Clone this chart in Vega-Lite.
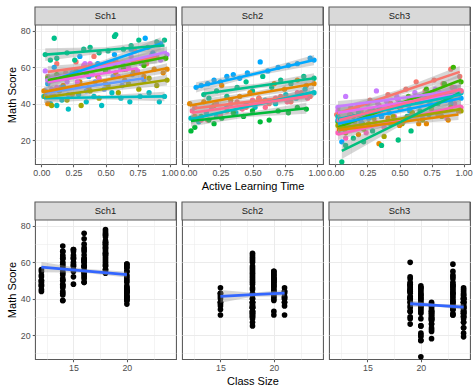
{
"$schema": "https://vega.github.io/schema/vega-lite/v6.json",
"padding": {"left": 5, "top": 5, "right": 4, "bottom": 4},
"columns": 3,
"bounds": "flush",
"spacing": {"row": 38, "column": 6},
"data": {"values": [
{"s":"Sch1","c":"A01","n":12,"t":0.03,"m":47},{"s":"Sch1","c":"A01","n":12,"t":0.08,"m":44},{"s":"Sch1","c":"A01","n":12,"t":0.15,"m":49},{"s":"Sch1","c":"A01","n":12,"t":0.21,"m":45},{"s":"Sch1","c":"A01","n":12,"t":0.28,"m":50},{"s":"Sch1","c":"A01","n":12,"t":0.35,"m":47},{"s":"Sch1","c":"A01","n":12,"t":0.42,"m":52},{"s":"Sch1","c":"A01","n":12,"t":0.49,"m":48},{"s":"Sch1","c":"A01","n":12,"t":0.56,"m":55},{"s":"Sch1","c":"A01","n":12,"t":0.63,"m":50},{"s":"Sch1","c":"A01","n":12,"t":0.71,"m":56},{"s":"Sch1","c":"A01","n":12,"t":0.8,"m":53},
{"s":"Sch1","c":"A02","n":20,"t":0.02,"m":44},{"s":"Sch1","c":"A02","n":20,"t":0.07,"m":40},{"s":"Sch1","c":"A02","n":20,"t":0.12,"m":39},{"s":"Sch1","c":"A02","n":20,"t":0.16,"m":42},{"s":"Sch1","c":"A02","n":20,"t":0.21,"m":37},{"s":"Sch1","c":"A02","n":20,"t":0.29,"m":45},{"s":"Sch1","c":"A02","n":20,"t":0.35,"m":41},{"s":"Sch1","c":"A02","n":20,"t":0.41,"m":44},{"s":"Sch1","c":"A02","n":20,"t":0.47,"m":39},{"s":"Sch1","c":"A02","n":20,"t":0.55,"m":46},{"s":"Sch1","c":"A02","n":20,"t":0.62,"m":43},{"s":"Sch1","c":"A02","n":20,"t":0.69,"m":41},{"s":"Sch1","c":"A02","n":20,"t":0.77,"m":44},{"s":"Sch1","c":"A02","n":20,"t":0.84,"m":46},{"s":"Sch1","c":"A02","n":20,"t":0.92,"m":41},{"s":"Sch1","c":"A02","n":20,"t":0.96,"m":44},
{"s":"Sch1","c":"A03","n":20,"t":0.02,"m":47},{"s":"Sch1","c":"A03","n":20,"t":0.05,"m":40},{"s":"Sch1","c":"A03","n":20,"t":0.1,"m":44},{"s":"Sch1","c":"A03","n":20,"t":0.17,"m":50},{"s":"Sch1","c":"A03","n":20,"t":0.24,"m":45},{"s":"Sch1","c":"A03","n":20,"t":0.3,"m":52},{"s":"Sch1","c":"A03","n":20,"t":0.37,"m":49},{"s":"Sch1","c":"A03","n":20,"t":0.44,"m":55},{"s":"Sch1","c":"A03","n":20,"t":0.5,"m":51},{"s":"Sch1","c":"A03","n":20,"t":0.58,"m":57},{"s":"Sch1","c":"A03","n":20,"t":0.65,"m":53},{"s":"Sch1","c":"A03","n":20,"t":0.72,"m":58},{"s":"Sch1","c":"A03","n":20,"t":0.8,"m":55},{"s":"Sch1","c":"A03","n":20,"t":0.88,"m":59},{"s":"Sch1","c":"A03","n":20,"t":0.95,"m":57},{"s":"Sch1","c":"A03","n":20,"t":0.98,"m":59},
{"s":"Sch1","c":"A04","n":14,"t":0.03,"m":44},{"s":"Sch1","c":"A04","n":14,"t":0.08,"m":39},{"s":"Sch1","c":"A04","n":14,"t":0.14,"m":47},{"s":"Sch1","c":"A04","n":14,"t":0.2,"m":42},{"s":"Sch1","c":"A04","n":14,"t":0.31,"m":39},{"s":"Sch1","c":"A04","n":14,"t":0.38,"m":47},{"s":"Sch1","c":"A04","n":14,"t":0.45,"m":43},{"s":"Sch1","c":"A04","n":14,"t":0.52,"m":50},{"s":"Sch1","c":"A04","n":14,"t":0.6,"m":46},{"s":"Sch1","c":"A04","n":14,"t":0.68,"m":51},{"s":"Sch1","c":"A04","n":14,"t":0.76,"m":48},{"s":"Sch1","c":"A04","n":14,"t":0.84,"m":54},{"s":"Sch1","c":"A04","n":14,"t":0.9,"m":50},{"s":"Sch1","c":"A04","n":14,"t":0.98,"m":53},
{"s":"Sch1","c":"A05","n":14,"t":0.05,"m":55},{"s":"Sch1","c":"A05","n":14,"t":0.12,"m":62},{"s":"Sch1","c":"A05","n":14,"t":0.19,"m":57},{"s":"Sch1","c":"A05","n":14,"t":0.27,"m":63},{"s":"Sch1","c":"A05","n":14,"t":0.33,"m":58},{"s":"Sch1","c":"A05","n":14,"t":0.41,"m":66},{"s":"Sch1","c":"A05","n":14,"t":0.5,"m":60},{"s":"Sch1","c":"A05","n":14,"t":0.58,"m":64},{"s":"Sch1","c":"A05","n":14,"t":0.66,"m":59},{"s":"Sch1","c":"A05","n":14,"t":0.73,"m":69},{"s":"Sch1","c":"A05","n":14,"t":0.82,"m":62},{"s":"Sch1","c":"A05","n":14,"t":0.9,"m":66},
{"s":"Sch1","c":"A06","n":15,"t":0.03,"m":58},{"s":"Sch1","c":"A06","n":15,"t":0.08,"m":48},{"s":"Sch1","c":"A06","n":15,"t":0.14,"m":55},{"s":"Sch1","c":"A06","n":15,"t":0.2,"m":52},{"s":"Sch1","c":"A06","n":15,"t":0.28,"m":58},{"s":"Sch1","c":"A06","n":15,"t":0.34,"m":62},{"s":"Sch1","c":"A06","n":15,"t":0.4,"m":56},{"s":"Sch1","c":"A06","n":15,"t":0.47,"m":60},{"s":"Sch1","c":"A06","n":15,"t":0.55,"m":63},{"s":"Sch1","c":"A06","n":15,"t":0.62,"m":59},{"s":"Sch1","c":"A06","n":15,"t":0.7,"m":66},{"s":"Sch1","c":"A06","n":15,"t":0.78,"m":62},{"s":"Sch1","c":"A06","n":15,"t":0.86,"m":67},{"s":"Sch1","c":"A06","n":15,"t":0.93,"m":64},{"s":"Sch1","c":"A06","n":15,"t":0.98,"m":67},
{"s":"Sch1","c":"A07","n":16,"t":0.05,"m":51},{"s":"Sch1","c":"A07","n":16,"t":0.1,"m":60},{"s":"Sch1","c":"A07","n":16,"t":0.17,"m":49},{"s":"Sch1","c":"A07","n":16,"t":0.24,"m":57},{"s":"Sch1","c":"A07","n":16,"t":0.3,"m":66},{"s":"Sch1","c":"A07","n":16,"t":0.37,"m":55},{"s":"Sch1","c":"A07","n":16,"t":0.44,"m":62},{"s":"Sch1","c":"A07","n":16,"t":0.5,"m":58},{"s":"Sch1","c":"A07","n":16,"t":0.57,"m":67},{"s":"Sch1","c":"A07","n":16,"t":0.64,"m":61},{"s":"Sch1","c":"A07","n":16,"t":0.7,"m":70},{"s":"Sch1","c":"A07","n":16,"t":0.77,"m":64},{"s":"Sch1","c":"A07","n":16,"t":0.81,"m":76},{"s":"Sch1","c":"A07","n":16,"t":0.87,"m":68},{"s":"Sch1","c":"A07","n":16,"t":0.93,"m":73},
{"s":"Sch1","c":"A08","n":16,"t":0.05,"m":53},{"s":"Sch1","c":"A08","n":16,"t":0.12,"m":49},{"s":"Sch1","c":"A08","n":16,"t":0.2,"m":55},{"s":"Sch1","c":"A08","n":16,"t":0.28,"m":52},{"s":"Sch1","c":"A08","n":16,"t":0.33,"m":61},{"s":"Sch1","c":"A08","n":16,"t":0.38,"m":62},{"s":"Sch1","c":"A08","n":16,"t":0.45,"m":54},{"s":"Sch1","c":"A08","n":16,"t":0.52,"m":58},{"s":"Sch1","c":"A08","n":16,"t":0.6,"m":55},{"s":"Sch1","c":"A08","n":16,"t":0.68,"m":60},{"s":"Sch1","c":"A08","n":16,"t":0.75,"m":58},
{"s":"Sch1","c":"A09","n":18,"t":0.03,"m":67},{"s":"Sch1","c":"A09","n":18,"t":0.07,"m":64},{"s":"Sch1","c":"A09","n":18,"t":0.1,"m":76},{"s":"Sch1","c":"A09","n":18,"t":0.12,"m":65},{"s":"Sch1","c":"A09","n":18,"t":0.2,"m":68},{"s":"Sch1","c":"A09","n":18,"t":0.26,"m":64},{"s":"Sch1","c":"A09","n":18,"t":0.33,"m":70},{"s":"Sch1","c":"A09","n":18,"t":0.38,"m":71},{"s":"Sch1","c":"A09","n":18,"t":0.45,"m":68},{"s":"Sch1","c":"A09","n":18,"t":0.52,"m":69},{"s":"Sch1","c":"A09","n":18,"t":0.57,"m":77},{"s":"Sch1","c":"A09","n":18,"t":0.58,"m":78},{"s":"Sch1","c":"A09","n":18,"t":0.64,"m":70},{"s":"Sch1","c":"A09","n":18,"t":0.7,"m":72},{"s":"Sch1","c":"A09","n":18,"t":0.76,"m":75},{"s":"Sch1","c":"A09","n":18,"t":0.83,"m":71},{"s":"Sch1","c":"A09","n":18,"t":0.9,"m":74},{"s":"Sch1","c":"A09","n":18,"t":0.96,"m":75},
{"s":"Sch1","c":"A10","n":18,"t":0.05,"m":54},{"s":"Sch1","c":"A10","n":18,"t":0.12,"m":56},{"s":"Sch1","c":"A10","n":18,"t":0.2,"m":55},{"s":"Sch1","c":"A10","n":18,"t":0.27,"m":58},{"s":"Sch1","c":"A10","n":18,"t":0.35,"m":56},{"s":"Sch1","c":"A10","n":18,"t":0.42,"m":60},{"s":"Sch1","c":"A10","n":18,"t":0.5,"m":58},{"s":"Sch1","c":"A10","n":18,"t":0.57,"m":62},{"s":"Sch1","c":"A10","n":18,"t":0.64,"m":59},{"s":"Sch1","c":"A10","n":18,"t":0.72,"m":63},{"s":"Sch1","c":"A10","n":18,"t":0.8,"m":61},{"s":"Sch1","c":"A10","n":18,"t":0.88,"m":66},{"s":"Sch1","c":"A10","n":18,"t":0.97,"m":65},
{"s":"Sch2","c":"B01","n":18,"t":0.06,"m":49},{"s":"Sch2","c":"B01","n":18,"t":0.1,"m":50},{"s":"Sch2","c":"B01","n":18,"t":0.15,"m":51},{"s":"Sch2","c":"B01","n":18,"t":0.2,"m":53},{"s":"Sch2","c":"B01","n":18,"t":0.25,"m":52},{"s":"Sch2","c":"B01","n":18,"t":0.3,"m":55},{"s":"Sch2","c":"B01","n":18,"t":0.35,"m":56},{"s":"Sch2","c":"B01","n":18,"t":0.4,"m":54},{"s":"Sch2","c":"B01","n":18,"t":0.46,"m":57},{"s":"Sch2","c":"B01","n":18,"t":0.56,"m":63},{"s":"Sch2","c":"B01","n":18,"t":0.62,"m":58},{"s":"Sch2","c":"B01","n":18,"t":0.7,"m":60},{"s":"Sch2","c":"B01","n":18,"t":0.78,"m":61},{"s":"Sch2","c":"B01","n":18,"t":0.85,"m":62},{"s":"Sch2","c":"B01","n":18,"t":0.95,"m":65},{"s":"Sch2","c":"B01","n":18,"t":0.98,"m":64},
{"s":"Sch2","c":"B02","n":20,"t":0.12,"m":45},{"s":"Sch2","c":"B02","n":20,"t":0.16,"m":43},{"s":"Sch2","c":"B02","n":20,"t":0.22,"m":47},{"s":"Sch2","c":"B02","n":20,"t":0.3,"m":44},{"s":"Sch2","c":"B02","n":20,"t":0.38,"m":49},{"s":"Sch2","c":"B02","n":20,"t":0.45,"m":52},{"s":"Sch2","c":"B02","n":20,"t":0.5,"m":47},{"s":"Sch2","c":"B02","n":20,"t":0.58,"m":55},{"s":"Sch2","c":"B02","n":20,"t":0.65,"m":49},{"s":"Sch2","c":"B02","n":20,"t":0.72,"m":53},{"s":"Sch2","c":"B02","n":20,"t":0.8,"m":51},{"s":"Sch2","c":"B02","n":20,"t":0.9,"m":55},{"s":"Sch2","c":"B02","n":20,"t":0.98,"m":54},
{"s":"Sch2","c":"B03","n":20,"t":0.01,"m":40},{"s":"Sch2","c":"B03","n":20,"t":0.05,"m":33},{"s":"Sch2","c":"B03","n":20,"t":0.09,"m":31},{"s":"Sch2","c":"B03","n":20,"t":0.12,"m":41},{"s":"Sch2","c":"B03","n":20,"t":0.2,"m":39},{"s":"Sch2","c":"B03","n":20,"t":0.26,"m":50},{"s":"Sch2","c":"B03","n":20,"t":0.33,"m":42},{"s":"Sch2","c":"B03","n":20,"t":0.4,"m":44},{"s":"Sch2","c":"B03","n":20,"t":0.48,"m":46},{"s":"Sch2","c":"B03","n":20,"t":0.55,"m":43},{"s":"Sch2","c":"B03","n":20,"t":0.67,"m":51},{"s":"Sch2","c":"B03","n":20,"t":0.75,"m":48},{"s":"Sch2","c":"B03","n":20,"t":0.85,"m":53},{"s":"Sch2","c":"B03","n":20,"t":0.92,"m":50},{"s":"Sch2","c":"B03","n":20,"t":0.98,"m":51},
{"s":"Sch2","c":"B04","n":21,"t":0.05,"m":38},{"s":"Sch2","c":"B04","n":21,"t":0.15,"m":31},{"s":"Sch2","c":"B04","n":21,"t":0.22,"m":40},{"s":"Sch2","c":"B04","n":21,"t":0.3,"m":36},{"s":"Sch2","c":"B04","n":21,"t":0.38,"m":41},{"s":"Sch2","c":"B04","n":21,"t":0.45,"m":38},{"s":"Sch2","c":"B04","n":21,"t":0.55,"m":43},{"s":"Sch2","c":"B04","n":21,"t":0.63,"m":40},{"s":"Sch2","c":"B04","n":21,"t":0.72,"m":44},{"s":"Sch2","c":"B04","n":21,"t":0.8,"m":41},{"s":"Sch2","c":"B04","n":21,"t":0.88,"m":46},{"s":"Sch2","c":"B04","n":21,"t":0.95,"m":44},
{"s":"Sch2","c":"B05","n":18,"t":0.02,"m":32},{"s":"Sch2","c":"B05","n":18,"t":0.08,"m":30},{"s":"Sch2","c":"B05","n":18,"t":0.14,"m":35},{"s":"Sch2","c":"B05","n":18,"t":0.22,"m":33},{"s":"Sch2","c":"B05","n":18,"t":0.3,"m":38},{"s":"Sch2","c":"B05","n":18,"t":0.37,"m":35},{"s":"Sch2","c":"B05","n":18,"t":0.45,"m":40},{"s":"Sch2","c":"B05","n":18,"t":0.52,"m":38},{"s":"Sch2","c":"B05","n":18,"t":0.6,"m":42},{"s":"Sch2","c":"B05","n":18,"t":0.68,"m":40},{"s":"Sch2","c":"B05","n":18,"t":0.76,"m":45},{"s":"Sch2","c":"B05","n":18,"t":0.84,"m":43},{"s":"Sch2","c":"B05","n":18,"t":0.91,"m":48},{"s":"Sch2","c":"B05","n":18,"t":0.98,"m":46},
{"s":"Sch2","c":"B06","n":18,"t":0.02,"m":25},{"s":"Sch2","c":"B06","n":18,"t":0.05,"m":27},{"s":"Sch2","c":"B06","n":18,"t":0.1,"m":33},{"s":"Sch2","c":"B06","n":18,"t":0.16,"m":31},{"s":"Sch2","c":"B06","n":18,"t":0.2,"m":29},{"s":"Sch2","c":"B06","n":18,"t":0.26,"m":32},{"s":"Sch2","c":"B06","n":18,"t":0.35,"m":35},{"s":"Sch2","c":"B06","n":18,"t":0.43,"m":33},{"s":"Sch2","c":"B06","n":18,"t":0.5,"m":36},{"s":"Sch2","c":"B06","n":18,"t":0.56,"m":30},{"s":"Sch2","c":"B06","n":18,"t":0.63,"m":31},{"s":"Sch2","c":"B06","n":18,"t":0.7,"m":36},{"s":"Sch2","c":"B06","n":18,"t":0.78,"m":35},{"s":"Sch2","c":"B06","n":18,"t":0.85,"m":38},{"s":"Sch2","c":"B06","n":18,"t":0.92,"m":37},
{"s":"Sch2","c":"B07","n":15,"t":0.03,"m":36},{"s":"Sch2","c":"B07","n":15,"t":0.1,"m":31},{"s":"Sch2","c":"B07","n":15,"t":0.18,"m":38},{"s":"Sch2","c":"B07","n":15,"t":0.25,"m":34},{"s":"Sch2","c":"B07","n":15,"t":0.33,"m":40},{"s":"Sch2","c":"B07","n":15,"t":0.42,"m":37},{"s":"Sch2","c":"B07","n":15,"t":0.5,"m":42},{"s":"Sch2","c":"B07","n":15,"t":0.6,"m":38},{"s":"Sch2","c":"B07","n":15,"t":0.68,"m":43},{"s":"Sch2","c":"B07","n":15,"t":0.77,"m":41},{"s":"Sch2","c":"B07","n":15,"t":0.85,"m":46},{"s":"Sch2","c":"B07","n":15,"t":0.93,"m":43},
{"s":"Sch3","c":"C01","n":23,"t":0.01,"m":34},{"s":"Sch3","c":"C01","n":23,"t":0.06,"m":31},{"s":"Sch3","c":"C01","n":23,"t":0.12,"m":38},{"s":"Sch3","c":"C01","n":23,"t":0.2,"m":36},{"s":"Sch3","c":"C01","n":23,"t":0.27,"m":42},{"s":"Sch3","c":"C01","n":23,"t":0.34,"m":39},{"s":"Sch3","c":"C01","n":23,"t":0.41,"m":45},{"s":"Sch3","c":"C01","n":23,"t":0.48,"m":43},{"s":"Sch3","c":"C01","n":23,"t":0.55,"m":48},{"s":"Sch3","c":"C01","n":23,"t":0.63,"m":52},{"s":"Sch3","c":"C01","n":23,"t":0.7,"m":47},{"s":"Sch3","c":"C01","n":23,"t":0.77,"m":53},{"s":"Sch3","c":"C01","n":23,"t":0.84,"m":51},{"s":"Sch3","c":"C01","n":23,"t":0.9,"m":59},{"s":"Sch3","c":"C01","n":23,"t":0.97,"m":55},
{"s":"Sch3","c":"C02","n":19,"t":0.02,"m":30},{"s":"Sch3","c":"C02","n":19,"t":0.07,"m":26},{"s":"Sch3","c":"C02","n":19,"t":0.14,"m":33},{"s":"Sch3","c":"C02","n":19,"t":0.21,"m":29},{"s":"Sch3","c":"C02","n":19,"t":0.3,"m":36},{"s":"Sch3","c":"C02","n":19,"t":0.36,"m":33},{"s":"Sch3","c":"C02","n":19,"t":0.43,"m":40},{"s":"Sch3","c":"C02","n":19,"t":0.5,"m":38},{"s":"Sch3","c":"C02","n":19,"t":0.57,"m":44},{"s":"Sch3","c":"C02","n":19,"t":0.64,"m":41},{"s":"Sch3","c":"C02","n":19,"t":0.71,"m":48},{"s":"Sch3","c":"C02","n":19,"t":0.78,"m":45},{"s":"Sch3","c":"C02","n":19,"t":0.85,"m":51},{"s":"Sch3","c":"C02","n":19,"t":0.92,"m":60},{"s":"Sch3","c":"C02","n":19,"t":0.98,"m":52},
{"s":"Sch3","c":"C03","n":19,"t":0.02,"m":38},{"s":"Sch3","c":"C03","n":19,"t":0.08,"m":44},{"s":"Sch3","c":"C03","n":19,"t":0.18,"m":35},{"s":"Sch3","c":"C03","n":19,"t":0.25,"m":40},{"s":"Sch3","c":"C03","n":19,"t":0.32,"m":47},{"s":"Sch3","c":"C03","n":19,"t":0.4,"m":41},{"s":"Sch3","c":"C03","n":19,"t":0.48,"m":44},{"s":"Sch3","c":"C03","n":19,"t":0.55,"m":40},{"s":"Sch3","c":"C03","n":19,"t":0.62,"m":46},{"s":"Sch3","c":"C03","n":19,"t":0.7,"m":43},{"s":"Sch3","c":"C03","n":19,"t":0.78,"m":48},{"s":"Sch3","c":"C03","n":19,"t":0.86,"m":45},{"s":"Sch3","c":"C03","n":19,"t":0.93,"m":49},{"s":"Sch3","c":"C03","n":19,"t":0.98,"m":47},
{"s":"Sch3","c":"C04","n":24,"t":0.02,"m":24},{"s":"Sch3","c":"C04","n":24,"t":0.08,"m":21},{"s":"Sch3","c":"C04","n":24,"t":0.16,"m":27},{"s":"Sch3","c":"C04","n":24,"t":0.24,"m":24},{"s":"Sch3","c":"C04","n":24,"t":0.31,"m":30},{"s":"Sch3","c":"C04","n":24,"t":0.38,"m":27},{"s":"Sch3","c":"C04","n":24,"t":0.46,"m":33},{"s":"Sch3","c":"C04","n":24,"t":0.53,"m":30},{"s":"Sch3","c":"C04","n":24,"t":0.6,"m":35},{"s":"Sch3","c":"C04","n":24,"t":0.68,"m":32},{"s":"Sch3","c":"C04","n":24,"t":0.75,"m":38},{"s":"Sch3","c":"C04","n":24,"t":0.82,"m":35},{"s":"Sch3","c":"C04","n":24,"t":0.87,"m":32},{"s":"Sch3","c":"C04","n":24,"t":0.93,"m":40},{"s":"Sch3","c":"C04","n":24,"t":0.98,"m":38},
{"s":"Sch3","c":"C05","n":24,"t":0.02,"m":31},{"s":"Sch3","c":"C05","n":24,"t":0.05,"m":19},{"s":"Sch3","c":"C05","n":24,"t":0.12,"m":34},{"s":"Sch3","c":"C05","n":24,"t":0.2,"m":30},{"s":"Sch3","c":"C05","n":24,"t":0.28,"m":36},{"s":"Sch3","c":"C05","n":24,"t":0.36,"m":33},{"s":"Sch3","c":"C05","n":24,"t":0.44,"m":38},{"s":"Sch3","c":"C05","n":24,"t":0.52,"m":40},{"s":"Sch3","c":"C05","n":24,"t":0.58,"m":36},{"s":"Sch3","c":"C05","n":24,"t":0.66,"m":41},{"s":"Sch3","c":"C05","n":24,"t":0.74,"m":39},{"s":"Sch3","c":"C05","n":24,"t":0.82,"m":44},{"s":"Sch3","c":"C05","n":24,"t":0.9,"m":40},{"s":"Sch3","c":"C05","n":24,"t":0.98,"m":43},
{"s":"Sch3","c":"C06","n":21,"t":0.02,"m":28},{"s":"Sch3","c":"C06","n":21,"t":0.08,"m":24},{"s":"Sch3","c":"C06","n":21,"t":0.15,"m":30},{"s":"Sch3","c":"C06","n":21,"t":0.22,"m":26},{"s":"Sch3","c":"C06","n":21,"t":0.3,"m":32},{"s":"Sch3","c":"C06","n":21,"t":0.38,"m":22},{"s":"Sch3","c":"C06","n":21,"t":0.45,"m":33},{"s":"Sch3","c":"C06","n":21,"t":0.52,"m":29},{"s":"Sch3","c":"C06","n":21,"t":0.6,"m":35},{"s":"Sch3","c":"C06","n":21,"t":0.68,"m":31},{"s":"Sch3","c":"C06","n":21,"t":0.75,"m":37},{"s":"Sch3","c":"C06","n":21,"t":0.83,"m":33},{"s":"Sch3","c":"C06","n":21,"t":0.9,"m":38},{"s":"Sch3","c":"C06","n":21,"t":0.98,"m":36},
{"s":"Sch3","c":"C07","n":21,"t":0.03,"m":26},{"s":"Sch3","c":"C07","n":21,"t":0.1,"m":30},{"s":"Sch3","c":"C07","n":21,"t":0.18,"m":23},{"s":"Sch3","c":"C07","n":21,"t":0.26,"m":29},{"s":"Sch3","c":"C07","n":21,"t":0.34,"m":18},{"s":"Sch3","c":"C07","n":21,"t":0.41,"m":32},{"s":"Sch3","c":"C07","n":21,"t":0.5,"m":28},{"s":"Sch3","c":"C07","n":21,"t":0.58,"m":33},{"s":"Sch3","c":"C07","n":21,"t":0.65,"m":29},{"s":"Sch3","c":"C07","n":21,"t":0.71,"m":29},{"s":"Sch3","c":"C07","n":21,"t":0.8,"m":34},{"s":"Sch3","c":"C07","n":21,"t":0.88,"m":31},{"s":"Sch3","c":"C07","n":21,"t":0.96,"m":36},
{"s":"Sch3","c":"C08","n":20,"t":0.02,"m":36},{"s":"Sch3","c":"C08","n":20,"t":0.09,"m":32},{"s":"Sch3","c":"C08","n":20,"t":0.17,"m":38},{"s":"Sch3","c":"C08","n":20,"t":0.25,"m":35},{"s":"Sch3","c":"C08","n":20,"t":0.33,"m":40},{"s":"Sch3","c":"C08","n":20,"t":0.41,"m":37},{"s":"Sch3","c":"C08","n":20,"t":0.49,"m":42},{"s":"Sch3","c":"C08","n":20,"t":0.57,"m":39},{"s":"Sch3","c":"C08","n":20,"t":0.65,"m":44},{"s":"Sch3","c":"C08","n":20,"t":0.73,"m":41},{"s":"Sch3","c":"C08","n":20,"t":0.81,"m":46},{"s":"Sch3","c":"C08","n":20,"t":0.89,"m":43},{"s":"Sch3","c":"C08","n":20,"t":0.97,"m":46},
{"s":"Sch3","c":"C09","n":20,"t":0.05,"m":8},{"s":"Sch3","c":"C09","n":20,"t":0.08,"m":17},{"s":"Sch3","c":"C09","n":20,"t":0.14,"m":21},{"s":"Sch3","c":"C09","n":20,"t":0.22,"m":19},{"s":"Sch3","c":"C09","n":20,"t":0.29,"m":25},{"s":"Sch3","c":"C09","n":20,"t":0.36,"m":17},{"s":"Sch3","c":"C09","n":20,"t":0.43,"m":29},{"s":"Sch3","c":"C09","n":20,"t":0.49,"m":20},{"s":"Sch3","c":"C09","n":20,"t":0.56,"m":33},{"s":"Sch3","c":"C09","n":20,"t":0.59,"m":25},{"s":"Sch3","c":"C09","n":20,"t":0.66,"m":36},{"s":"Sch3","c":"C09","n":20,"t":0.73,"m":34},{"s":"Sch3","c":"C09","n":20,"t":0.8,"m":40},{"s":"Sch3","c":"C09","n":20,"t":0.86,"m":42},{"s":"Sch3","c":"C09","n":20,"t":0.91,"m":45},{"s":"Sch3","c":"C09","n":20,"t":0.97,"m":47},
{"s":"Sch3","c":"C10","n":24,"t":0.02,"m":33},{"s":"Sch3","c":"C10","n":24,"t":0.1,"m":29},{"s":"Sch3","c":"C10","n":24,"t":0.18,"m":35},{"s":"Sch3","c":"C10","n":24,"t":0.26,"m":32},{"s":"Sch3","c":"C10","n":24,"t":0.34,"m":38},{"s":"Sch3","c":"C10","n":24,"t":0.42,"m":35},{"s":"Sch3","c":"C10","n":24,"t":0.5,"m":40},{"s":"Sch3","c":"C10","n":24,"t":0.58,"m":37},{"s":"Sch3","c":"C10","n":24,"t":0.66,"m":42},{"s":"Sch3","c":"C10","n":24,"t":0.74,"m":40},{"s":"Sch3","c":"C10","n":24,"t":0.82,"m":45},{"s":"Sch3","c":"C10","n":24,"t":0.9,"m":42},{"s":"Sch3","c":"C10","n":24,"t":0.98,"m":46},
{"s":"Sch3","c":"C11","n":23,"t":0.03,"m":31},{"s":"Sch3","c":"C11","n":23,"t":0.11,"m":34},{"s":"Sch3","c":"C11","n":23,"t":0.19,"m":32},{"s":"Sch3","c":"C11","n":23,"t":0.27,"m":37},{"s":"Sch3","c":"C11","n":23,"t":0.35,"m":35},{"s":"Sch3","c":"C11","n":23,"t":0.43,"m":40},{"s":"Sch3","c":"C11","n":23,"t":0.51,"m":38},{"s":"Sch3","c":"C11","n":23,"t":0.59,"m":43},{"s":"Sch3","c":"C11","n":23,"t":0.67,"m":41},{"s":"Sch3","c":"C11","n":23,"t":0.75,"m":46},{"s":"Sch3","c":"C11","n":23,"t":0.83,"m":44},{"s":"Sch3","c":"C11","n":23,"t":0.91,"m":49},{"s":"Sch3","c":"C11","n":23,"t":0.98,"m":47},
{"s":"Sch1","c":"A01","k":"T","t":0.03,"m":46,"lo":42.8,"hi":49.2},{"s":"Sch1","c":"A01","k":"T","t":0.415,"m":50,"lo":48.5,"hi":51.5},{"s":"Sch1","c":"A01","k":"T","t":0.8,"m":54,"lo":50.8,"hi":57.2},
{"s":"Sch1","c":"A02","k":"T","t":0.02,"m":43,"lo":40.4,"hi":45.6},{"s":"Sch1","c":"A02","k":"T","t":0.49,"m":43.5,"lo":42.3,"hi":44.7},{"s":"Sch1","c":"A02","k":"T","t":0.96,"m":44,"lo":41.4,"hi":46.6},
{"s":"Sch1","c":"A03","k":"T","t":0.02,"m":46.5,"lo":43.7,"hi":49.3},{"s":"Sch1","c":"A03","k":"T","t":0.5,"m":53,"lo":51.7,"hi":54.3},{"s":"Sch1","c":"A03","k":"T","t":0.98,"m":59.5,"lo":56.7,"hi":62.3},
{"s":"Sch1","c":"A04","k":"T","t":0.03,"m":43.5,"lo":40.5,"hi":46.5},{"s":"Sch1","c":"A04","k":"T","t":0.505,"m":48.25,"lo":46.85,"hi":49.65},{"s":"Sch1","c":"A04","k":"T","t":0.98,"m":53,"lo":50,"hi":56},
{"s":"Sch1","c":"A05","k":"T","t":0.05,"m":57.5,"lo":54.3,"hi":60.7},{"s":"Sch1","c":"A05","k":"T","t":0.475,"m":61.5,"lo":60,"hi":63},{"s":"Sch1","c":"A05","k":"T","t":0.9,"m":65.5,"lo":62.3,"hi":68.7},
{"s":"Sch1","c":"A06","k":"T","t":0.03,"m":53,"lo":50,"hi":56},{"s":"Sch1","c":"A06","k":"T","t":0.505,"m":60.75,"lo":59.35,"hi":62.15},{"s":"Sch1","c":"A06","k":"T","t":0.98,"m":68.5,"lo":65.5,"hi":71.5},
{"s":"Sch1","c":"A07","k":"T","t":0.05,"m":52,"lo":48.5,"hi":55.5},{"s":"Sch1","c":"A07","k":"T","t":0.49,"m":62.5,"lo":60.9,"hi":64.1},{"s":"Sch1","c":"A07","k":"T","t":0.93,"m":73,"lo":69.5,"hi":76.5},
{"s":"Sch1","c":"A08","k":"T","t":0.05,"m":52,"lo":49,"hi":55},{"s":"Sch1","c":"A08","k":"T","t":0.4,"m":55.75,"lo":54.35,"hi":57.15},{"s":"Sch1","c":"A08","k":"T","t":0.75,"m":59.5,"lo":56.5,"hi":62.5},
{"s":"Sch1","c":"A09","k":"T","t":0.03,"m":67,"lo":63.5,"hi":70.5},{"s":"Sch1","c":"A09","k":"T","t":0.495,"m":69.5,"lo":67.9,"hi":71.1},{"s":"Sch1","c":"A09","k":"T","t":0.96,"m":72,"lo":68.5,"hi":75.5},
{"s":"Sch1","c":"A10","k":"T","t":0.05,"m":53,"lo":50.5,"hi":55.5},{"s":"Sch1","c":"A10","k":"T","t":0.51,"m":59.25,"lo":58.05,"hi":60.45},{"s":"Sch1","c":"A10","k":"T","t":0.97,"m":65.5,"lo":63,"hi":68},
{"s":"Sch2","c":"B01","k":"T","t":0.06,"m":49,"lo":46.2,"hi":51.8},{"s":"Sch2","c":"B01","k":"T","t":0.52,"m":56.5,"lo":55.2,"hi":57.8},{"s":"Sch2","c":"B01","k":"T","t":0.98,"m":64,"lo":61.2,"hi":66.8},
{"s":"Sch2","c":"B02","k":"T","t":0.12,"m":45.5,"lo":42.7,"hi":48.3},{"s":"Sch2","c":"B02","k":"T","t":0.55,"m":49.75,"lo":48.45,"hi":51.05},{"s":"Sch2","c":"B02","k":"T","t":0.98,"m":54,"lo":51.2,"hi":56.8},
{"s":"Sch2","c":"B03","k":"T","t":0.01,"m":39,"lo":36.2,"hi":41.8},{"s":"Sch2","c":"B03","k":"T","t":0.495,"m":45,"lo":43.7,"hi":46.3},{"s":"Sch2","c":"B03","k":"T","t":0.98,"m":51,"lo":48.2,"hi":53.8},
{"s":"Sch2","c":"B04","k":"T","t":0.05,"m":37.5,"lo":34.7,"hi":40.3},{"s":"Sch2","c":"B04","k":"T","t":0.5,"m":41.25,"lo":39.95,"hi":42.55},{"s":"Sch2","c":"B04","k":"T","t":0.95,"m":45,"lo":42.2,"hi":47.8},
{"s":"Sch2","c":"B05","k":"T","t":0.02,"m":31.5,"lo":28.7,"hi":34.3},{"s":"Sch2","c":"B05","k":"T","t":0.5,"m":39,"lo":37.7,"hi":40.3},{"s":"Sch2","c":"B05","k":"T","t":0.98,"m":46.5,"lo":43.7,"hi":49.3},
{"s":"Sch2","c":"B06","k":"T","t":0.02,"m":30.5,"lo":27.5,"hi":33.5},{"s":"Sch2","c":"B06","k":"T","t":0.47,"m":34,"lo":32.6,"hi":35.4},{"s":"Sch2","c":"B06","k":"T","t":0.92,"m":37.5,"lo":34.5,"hi":40.5},
{"s":"Sch2","c":"B07","k":"T","t":0.03,"m":35,"lo":32.2,"hi":37.8},{"s":"Sch2","c":"B07","k":"T","t":0.48,"m":39.5,"lo":38.2,"hi":40.8},{"s":"Sch2","c":"B07","k":"T","t":0.93,"m":44,"lo":41.2,"hi":46.8},
{"s":"Sch3","c":"C01","k":"T","t":0.01,"m":34.5,"lo":31.3,"hi":37.7},{"s":"Sch3","c":"C01","k":"T","t":0.49,"m":46,"lo":44.5,"hi":47.5},{"s":"Sch3","c":"C01","k":"T","t":0.97,"m":57.5,"lo":54.3,"hi":60.7},
{"s":"Sch3","c":"C02","k":"T","t":0.02,"m":27,"lo":23.5,"hi":30.5},{"s":"Sch3","c":"C02","k":"T","t":0.5,"m":40,"lo":38.4,"hi":41.6},{"s":"Sch3","c":"C02","k":"T","t":0.98,"m":53,"lo":49.5,"hi":56.5},
{"s":"Sch3","c":"C03","k":"T","t":0.02,"m":38.5,"lo":35.5,"hi":41.5},{"s":"Sch3","c":"C03","k":"T","t":0.5,"m":43,"lo":41.6,"hi":44.4},{"s":"Sch3","c":"C03","k":"T","t":0.98,"m":47.5,"lo":44.5,"hi":50.5},
{"s":"Sch3","c":"C04","k":"T","t":0.02,"m":23,"lo":20,"hi":26},{"s":"Sch3","c":"C04","k":"T","t":0.5,"m":31,"lo":29.6,"hi":32.4},{"s":"Sch3","c":"C04","k":"T","t":0.98,"m":39,"lo":36,"hi":42},
{"s":"Sch3","c":"C05","k":"T","t":0.02,"m":29,"lo":26,"hi":32},{"s":"Sch3","c":"C05","k":"T","t":0.5,"m":36,"lo":34.6,"hi":37.4},{"s":"Sch3","c":"C05","k":"T","t":0.98,"m":43,"lo":40,"hi":46},
{"s":"Sch3","c":"C06","k":"T","t":0.02,"m":26.5,"lo":23.5,"hi":29.5},{"s":"Sch3","c":"C06","k":"T","t":0.5,"m":31.75,"lo":30.35,"hi":33.15},{"s":"Sch3","c":"C06","k":"T","t":0.98,"m":37,"lo":34,"hi":40},
{"s":"Sch3","c":"C07","k":"T","t":0.03,"m":25.5,"lo":22.5,"hi":28.5},{"s":"Sch3","c":"C07","k":"T","t":0.495,"m":29.75,"lo":28.35,"hi":31.15},{"s":"Sch3","c":"C07","k":"T","t":0.96,"m":34,"lo":31,"hi":37},
{"s":"Sch3","c":"C08","k":"T","t":0.02,"m":35,"lo":32.2,"hi":37.8},{"s":"Sch3","c":"C08","k":"T","t":0.495,"m":40.25,"lo":38.95,"hi":41.55},{"s":"Sch3","c":"C08","k":"T","t":0.97,"m":45.5,"lo":42.7,"hi":48.3},
{"s":"Sch3","c":"C09","k":"T","t":0.05,"m":14,"lo":9.5,"hi":18.5},{"s":"Sch3","c":"C09","k":"T","t":0.51,"m":30,"lo":28,"hi":32},{"s":"Sch3","c":"C09","k":"T","t":0.97,"m":46,"lo":41.5,"hi":50.5},
{"s":"Sch3","c":"C10","k":"T","t":0.02,"m":31.5,"lo":28.7,"hi":34.3},{"s":"Sch3","c":"C10","k":"T","t":0.5,"m":38.25,"lo":36.95,"hi":39.55},{"s":"Sch3","c":"C10","k":"T","t":0.98,"m":45,"lo":42.2,"hi":47.8},
{"s":"Sch3","c":"C11","k":"T","t":0.03,"m":31,"lo":28,"hi":34},{"s":"Sch3","c":"C11","k":"T","t":0.505,"m":39.5,"lo":38.1,"hi":40.9},{"s":"Sch3","c":"C11","k":"T","t":0.98,"m":48,"lo":45,"hi":51},
{"s":"Sch1","k":"B","n":12,"m":57.4,"lo":54.6,"hi":60.2},{"s":"Sch1","k":"B","n":16,"m":55.3,"lo":54.2,"hi":56.4},{"s":"Sch1","k":"B","n":20,"m":53.2,"lo":51.6,"hi":54.8},
{"s":"Sch2","k":"B","n":15,"m":41.3,"lo":37.8,"hi":44.8},{"s":"Sch2","k":"B","n":18,"m":42.2,"lo":41.1,"hi":43.3},{"s":"Sch2","k":"B","n":21,"m":43.1,"lo":41.4,"hi":44.8},
{"s":"Sch3","k":"B","n":19,"m":37.2,"lo":35.4,"hi":39},{"s":"Sch3","k":"B","n":21.5,"m":36.3,"lo":35.5,"hi":37.1},{"s":"Sch3","k":"B","n":24,"m":35.4,"lo":33.9,"hi":36.9}
]},
"concat": [
{"width":141,"height":157,"transform":[{"filter":"datum.s=='Sch1'"}],
 "encoding":{
  "x":{"field":"t","type":"quantitative","scale":{"domain":[-0.05,1.05],"nice":false,"zero":false},"axis":{"values":[0,0.125,0.25,0.375,0.5,0.625,0.75,0.875,1],"labelExpr":"datum.value % 0.25 == 0 ? format(datum.value, '.2f') : ''","tickOpacity":{"condition":{"test":"datum.value % 0.25 == 0","value":1},"value":0},"gridWidth":{"condition":{"test":"datum.value % 0.25 == 0","value":1.07},"value":0.53},"title":null}},
  "y":{"field":"m","type":"quantitative","scale":{"domain":[6.8,93.2],"nice":false,"zero":false},"axis":{"values":[10,20,30,40,50,60,70,80],"labelExpr":"datum.value % 20 == 0 ? datum.label : ''","tickOpacity":{"condition":{"test":"datum.value % 20 == 0","value":1},"value":0},"gridWidth":{"condition":{"test":"datum.value % 20 == 0","value":1.07},"value":0.53},"title":"Math Score","titleY":87.5}}
 },
 "layer":[
  {"transform":[{"filter":"!datum.k"}],"mark":{"type":"circle","size":28,"opacity":1},"encoding":{"color":{"field":"c","type":"nominal","legend":null}}},
  {"transform":[{"filter":"datum.k=='T'"}],"mark":{"type":"area","color":"#999999","opacity":0.4},"encoding":{"y":{"field":"lo","type":"quantitative"},"y2":{"field":"hi"},"detail":{"field":"c"}}},
  {"transform":[{"filter":"datum.k=='T'"}],"mark":{"type":"line","strokeWidth":2.6},"encoding":{"color":{"field":"c","type":"nominal","legend":null}}},
  {"transform":[{"filter":"!datum.k"},{"aggregate":[{"op":"min","field":"t","as":"t"},{"op":"min","field":"m","as":"m"}],"groupby":["s"]}],"mark":{"type":"rect","fill":"#D9D9D9","stroke":"#5A5A5A","strokeWidth":1.07},"encoding":{"x":{"datum":-0.05,"type":"quantitative"},"x2":{"datum":1.05},"y":{"datum":83.3,"type":"quantitative"},"y2":{"datum":93.2}}},
  {"transform":[{"filter":"!datum.k"},{"aggregate":[{"op":"min","field":"t","as":"t"},{"op":"min","field":"m","as":"m"}],"groupby":["s"]}],"mark":{"type":"text","fontSize":9.4,"color":"#1A1A1A"},"encoding":{"x":{"datum":0.5,"type":"quantitative"},"y":{"datum":88.25,"type":"quantitative"},"text":{"field":"s"}}}
 ]},
{"width":141,"height":157,"transform":[{"filter":"datum.s=='Sch2'"}],
 "encoding":{
  "x":{"field":"t","type":"quantitative","scale":{"domain":[-0.05,1.05],"nice":false,"zero":false},"axis":{"values":[0,0.125,0.25,0.375,0.5,0.625,0.75,0.875,1],"labelExpr":"datum.value % 0.25 == 0 ? format(datum.value, '.2f') : ''","tickOpacity":{"condition":{"test":"datum.value % 0.25 == 0","value":1},"value":0},"gridWidth":{"condition":{"test":"datum.value % 0.25 == 0","value":1.07},"value":0.53},"title":"Active Learning Time"}},
  "y":{"field":"m","type":"quantitative","scale":{"domain":[6.8,93.2],"nice":false,"zero":false},"axis":{"values":[10,20,30,40,50,60,70,80],"labels":false,"ticks":false,"gridWidth":{"condition":{"test":"datum.value % 20 == 0","value":1.07},"value":0.53},"title":null}}
 },
 "layer":[
  {"transform":[{"filter":"!datum.k"}],"mark":{"type":"circle","size":28,"opacity":1},"encoding":{"color":{"field":"c","type":"nominal","legend":null}}},
  {"transform":[{"filter":"datum.k=='T'"}],"mark":{"type":"area","color":"#999999","opacity":0.4},"encoding":{"y":{"field":"lo","type":"quantitative"},"y2":{"field":"hi"},"detail":{"field":"c"}}},
  {"transform":[{"filter":"datum.k=='T'"}],"mark":{"type":"line","strokeWidth":2.6},"encoding":{"color":{"field":"c","type":"nominal","legend":null}}},
  {"transform":[{"filter":"!datum.k"},{"aggregate":[{"op":"min","field":"t","as":"t"},{"op":"min","field":"m","as":"m"}],"groupby":["s"]}],"mark":{"type":"rect","fill":"#D9D9D9","stroke":"#5A5A5A","strokeWidth":1.07},"encoding":{"x":{"datum":-0.05,"type":"quantitative"},"x2":{"datum":1.05},"y":{"datum":83.3,"type":"quantitative"},"y2":{"datum":93.2}}},
  {"transform":[{"filter":"!datum.k"},{"aggregate":[{"op":"min","field":"t","as":"t"},{"op":"min","field":"m","as":"m"}],"groupby":["s"]}],"mark":{"type":"text","fontSize":9.4,"color":"#1A1A1A"},"encoding":{"x":{"datum":0.5,"type":"quantitative"},"y":{"datum":88.25,"type":"quantitative"},"text":{"field":"s"}}}
 ]},
{"width":141,"height":157,"transform":[{"filter":"datum.s=='Sch3'"}],
 "encoding":{
  "x":{"field":"t","type":"quantitative","scale":{"domain":[-0.05,1.05],"nice":false,"zero":false},"axis":{"values":[0,0.125,0.25,0.375,0.5,0.625,0.75,0.875,1],"labelExpr":"datum.value % 0.25 == 0 ? format(datum.value, '.2f') : ''","tickOpacity":{"condition":{"test":"datum.value % 0.25 == 0","value":1},"value":0},"gridWidth":{"condition":{"test":"datum.value % 0.25 == 0","value":1.07},"value":0.53},"title":null}},
  "y":{"field":"m","type":"quantitative","scale":{"domain":[6.8,93.2],"nice":false,"zero":false},"axis":{"values":[10,20,30,40,50,60,70,80],"labels":false,"ticks":false,"gridWidth":{"condition":{"test":"datum.value % 20 == 0","value":1.07},"value":0.53},"title":null}}
 },
 "layer":[
  {"transform":[{"filter":"!datum.k"}],"mark":{"type":"circle","size":28,"opacity":1},"encoding":{"color":{"field":"c","type":"nominal","legend":null}}},
  {"transform":[{"filter":"datum.k=='T'"}],"mark":{"type":"area","color":"#999999","opacity":0.4},"encoding":{"y":{"field":"lo","type":"quantitative"},"y2":{"field":"hi"},"detail":{"field":"c"}}},
  {"transform":[{"filter":"datum.k=='T'"}],"mark":{"type":"line","strokeWidth":2.6},"encoding":{"color":{"field":"c","type":"nominal","legend":null}}},
  {"transform":[{"filter":"!datum.k"},{"aggregate":[{"op":"min","field":"t","as":"t"},{"op":"min","field":"m","as":"m"}],"groupby":["s"]}],"mark":{"type":"rect","fill":"#D9D9D9","stroke":"#5A5A5A","strokeWidth":1.07},"encoding":{"x":{"datum":-0.05,"type":"quantitative"},"x2":{"datum":1.05},"y":{"datum":83.3,"type":"quantitative"},"y2":{"datum":93.2}}},
  {"transform":[{"filter":"!datum.k"},{"aggregate":[{"op":"min","field":"t","as":"t"},{"op":"min","field":"m","as":"m"}],"groupby":["s"]}],"mark":{"type":"text","fontSize":9.4,"color":"#1A1A1A"},"encoding":{"x":{"datum":0.5,"type":"quantitative"},"y":{"datum":88.25,"type":"quantitative"},"text":{"field":"s"}}}
 ]},
{"width":141,"height":157,"transform":[{"filter":"datum.s=='Sch1'"}],
 "encoding":{
  "x":{"field":"n","type":"quantitative","scale":{"domain":[11.4,24.6],"nice":false,"zero":false},"axis":{"values":[12.5,15,17.5,20,22.5],"labelExpr":"datum.value % 5 == 0 ? datum.label : ''","tickOpacity":{"condition":{"test":"datum.value % 5 == 0","value":1},"value":0},"gridWidth":{"condition":{"test":"datum.value % 5 == 0","value":1.07},"value":0.53},"title":null}},
  "y":{"field":"m","type":"quantitative","scale":{"domain":[6.8,93.2],"nice":false,"zero":false},"axis":{"values":[10,20,30,40,50,60,70,80],"labelExpr":"datum.value % 20 == 0 ? datum.label : ''","tickOpacity":{"condition":{"test":"datum.value % 20 == 0","value":1},"value":0},"gridWidth":{"condition":{"test":"datum.value % 20 == 0","value":1.07},"value":0.53},"title":"Math Score","titleY":87.5}}
 },
 "layer":[
  {"transform":[{"filter":"!datum.k"}],"mark":{"type":"circle","size":32,"opacity":1,"color":"#000000"}},
  {"transform":[{"filter":"datum.k=='B'"}],"mark":{"type":"area","color":"#999999","opacity":0.4},"encoding":{"y":{"field":"lo","type":"quantitative"},"y2":{"field":"hi"}}},
  {"transform":[{"filter":"datum.k=='B'"}],"mark":{"type":"line","strokeWidth":2.8,"color":"#3366FF"}},
  {"transform":[{"filter":"!datum.k"},{"aggregate":[{"op":"min","field":"n","as":"n"},{"op":"min","field":"m","as":"m"}],"groupby":["s"]}],"mark":{"type":"rect","fill":"#D9D9D9","stroke":"#5A5A5A","strokeWidth":1.07},"encoding":{"x":{"datum":11.4,"type":"quantitative"},"x2":{"datum":24.6},"y":{"datum":83.3,"type":"quantitative"},"y2":{"datum":93.2}}},
  {"transform":[{"filter":"!datum.k"},{"aggregate":[{"op":"min","field":"n","as":"n"},{"op":"min","field":"m","as":"m"}],"groupby":["s"]}],"mark":{"type":"text","fontSize":9.4,"color":"#1A1A1A"},"encoding":{"x":{"datum":18,"type":"quantitative"},"y":{"datum":88.25,"type":"quantitative"},"text":{"field":"s"}}}
 ]},
{"width":141,"height":157,"transform":[{"filter":"datum.s=='Sch2'"}],
 "encoding":{
  "x":{"field":"n","type":"quantitative","scale":{"domain":[11.4,24.6],"nice":false,"zero":false},"axis":{"values":[12.5,15,17.5,20,22.5],"labelExpr":"datum.value % 5 == 0 ? datum.label : ''","tickOpacity":{"condition":{"test":"datum.value % 5 == 0","value":1},"value":0},"gridWidth":{"condition":{"test":"datum.value % 5 == 0","value":1.07},"value":0.53},"title":"Class Size"}},
  "y":{"field":"m","type":"quantitative","scale":{"domain":[6.8,93.2],"nice":false,"zero":false},"axis":{"values":[10,20,30,40,50,60,70,80],"labels":false,"ticks":false,"gridWidth":{"condition":{"test":"datum.value % 20 == 0","value":1.07},"value":0.53},"title":null}}
 },
 "layer":[
  {"transform":[{"filter":"!datum.k"}],"mark":{"type":"circle","size":32,"opacity":1,"color":"#000000"}},
  {"transform":[{"filter":"datum.k=='B'"}],"mark":{"type":"area","color":"#999999","opacity":0.4},"encoding":{"y":{"field":"lo","type":"quantitative"},"y2":{"field":"hi"}}},
  {"transform":[{"filter":"datum.k=='B'"}],"mark":{"type":"line","strokeWidth":2.8,"color":"#3366FF"}},
  {"transform":[{"filter":"!datum.k"},{"aggregate":[{"op":"min","field":"n","as":"n"},{"op":"min","field":"m","as":"m"}],"groupby":["s"]}],"mark":{"type":"rect","fill":"#D9D9D9","stroke":"#5A5A5A","strokeWidth":1.07},"encoding":{"x":{"datum":11.4,"type":"quantitative"},"x2":{"datum":24.6},"y":{"datum":83.3,"type":"quantitative"},"y2":{"datum":93.2}}},
  {"transform":[{"filter":"!datum.k"},{"aggregate":[{"op":"min","field":"n","as":"n"},{"op":"min","field":"m","as":"m"}],"groupby":["s"]}],"mark":{"type":"text","fontSize":9.4,"color":"#1A1A1A"},"encoding":{"x":{"datum":18,"type":"quantitative"},"y":{"datum":88.25,"type":"quantitative"},"text":{"field":"s"}}}
 ]},
{"width":141,"height":157,"transform":[{"filter":"datum.s=='Sch3'"}],
 "encoding":{
  "x":{"field":"n","type":"quantitative","scale":{"domain":[11.4,24.6],"nice":false,"zero":false},"axis":{"values":[12.5,15,17.5,20,22.5],"labelExpr":"datum.value % 5 == 0 ? datum.label : ''","tickOpacity":{"condition":{"test":"datum.value % 5 == 0","value":1},"value":0},"gridWidth":{"condition":{"test":"datum.value % 5 == 0","value":1.07},"value":0.53},"title":null}},
  "y":{"field":"m","type":"quantitative","scale":{"domain":[6.8,93.2],"nice":false,"zero":false},"axis":{"values":[10,20,30,40,50,60,70,80],"labels":false,"ticks":false,"gridWidth":{"condition":{"test":"datum.value % 20 == 0","value":1.07},"value":0.53},"title":null}}
 },
 "layer":[
  {"transform":[{"filter":"!datum.k"}],"mark":{"type":"circle","size":32,"opacity":1,"color":"#000000"}},
  {"transform":[{"filter":"datum.k=='B'"}],"mark":{"type":"area","color":"#999999","opacity":0.4},"encoding":{"y":{"field":"lo","type":"quantitative"},"y2":{"field":"hi"}}},
  {"transform":[{"filter":"datum.k=='B'"}],"mark":{"type":"line","strokeWidth":2.8,"color":"#3366FF"}},
  {"transform":[{"filter":"!datum.k"},{"aggregate":[{"op":"min","field":"n","as":"n"},{"op":"min","field":"m","as":"m"}],"groupby":["s"]}],"mark":{"type":"rect","fill":"#D9D9D9","stroke":"#5A5A5A","strokeWidth":1.07},"encoding":{"x":{"datum":11.4,"type":"quantitative"},"x2":{"datum":24.6},"y":{"datum":83.3,"type":"quantitative"},"y2":{"datum":93.2}}},
  {"transform":[{"filter":"!datum.k"},{"aggregate":[{"op":"min","field":"n","as":"n"},{"op":"min","field":"m","as":"m"}],"groupby":["s"]}],"mark":{"type":"text","fontSize":9.4,"color":"#1A1A1A"},"encoding":{"x":{"datum":18,"type":"quantitative"},"y":{"datum":88.25,"type":"quantitative"},"text":{"field":"s"}}}
 ]}
],
"config": {
 "font": "Liberation Sans",
 "view": {"stroke": "#5A5A5A", "strokeWidth": 1.07},
 "axis": {"domain": false, "grid": true, "gridColor": "#EBEBEB", "tickColor": "#5A5A5A", "tickSize": 2.75, "tickWidth": 1.07, "labelColor": "#4D4D4D", "labelFontSize": 8.8, "labelPadding": 2.2, "labelFlush": false, "labelOverlap": false, "titleFontSize": 11, "titleFontWeight": "normal", "titleColor": "#000000", "titlePadding": 2.75},
 "range": {"category": ["#619CFF","#00BFC4","#E58700","#A3A500","#F8766D","#C77CFF","#00A9FF","#F564E3","#00C08B","#39B600","#00A9FF","#00C08B","#E58700","#F8766D","#00BFC4","#00BA38","#FF6C91","#F8766D","#39B600","#C77CFF","#FF62BC","#00A9FF","#A3A500","#E58700","#E76BF3","#00BF7D","#00BFC4","#FF6C91"]}
}
}
